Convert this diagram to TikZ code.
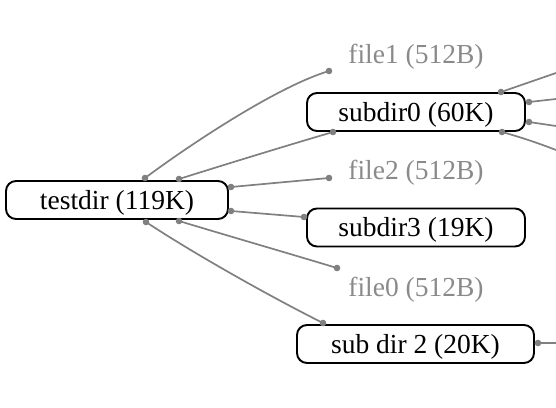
\documentclass[tikz,border=0pt]{standalone}
\usepackage{fontspec}
\setmainfont{Liberation Serif}
\definecolor{linkgray}{HTML}{808080}
\definecolor{textgray}{HTML}{8A8A8A}
\begin{document}
\begin{tikzpicture}[x=1pt,y=-1pt,
  dirbox/.style={draw=black, line width=1.9pt, rounded corners=10pt, minimum height=38pt, inner sep=0pt, text height=24pt, text depth=6pt, font=\fontsize{27.5}{33}\selectfont, text=black},
  filelabel/.style={text=textgray, font=\fontsize{27.5}{33}\selectfont, inner sep=0pt, anchor=base},
  link/.style={draw=linkgray, line width=1.7pt},
  dot/.style={fill=linkgray}]
\useasboundingbox (0,0) rectangle (556,407);
% boxes
\node[dirbox, minimum width=222pt] (td) at (117,200) {testdir (119K)};
\node[dirbox, minimum width=218pt] (s0) at (416,112) {subdir0 (60K)};
\node[dirbox, minimum width=218pt] (s3) at (416,227.5) {subdir3 (19K)};
\node[dirbox, minimum width=237pt] (s2) at (415.5,344) {sub dir 2 (20K)};
% file labels
\node[filelabel] (f1) at (416,63) {file1 (512B)};
\node[filelabel] (f2) at (416,179) {file2 (512B)};
\node[filelabel] (f0) at (416,296) {file0 (512B)};
% ports
\coordinate (td1) at (145,178);
\coordinate (td2) at (179,179);
\coordinate (td3) at (231,187);
\coordinate (td4) at (231,211);
\coordinate (td5) at (179,221);
\coordinate (td6) at (146,222);
\coordinate (f1p) at (329,71);
\coordinate (s0in) at (333,132);
\coordinate (f2p) at (329,178);
\coordinate (s3in) at (304,217);
\coordinate (f0p) at (337,268);
\coordinate (s2in) at (323,323);
\coordinate (s0a) at (501,92);
\coordinate (s0b) at (529,102);
\coordinate (s0c) at (529,122);
\coordinate (s0d) at (502,132);
\coordinate (e0a) at (556,73);
\coordinate (e0b) at (556,99);
\coordinate (e0c) at (556,126);
\coordinate (e0d) at (556,150);
\coordinate (s2a) at (538,343);
\coordinate (e2a) at (556,343);
% links
\draw[link] (td1) .. controls (195,141) and (279,86) .. (f1p);
\draw[link] (td2) .. controls (230,163) and (282,147) .. (s0in);
\draw[link] (td3) -- (f2p);
\draw[link] (td4) -- (s3in);
\draw[link] (td5) .. controls (232,237) and (284,252) .. (f0p);
\draw[link] (td6) .. controls (196,255) and (273,298) .. (s2in);
\draw[link] (s0a) -- (e0a);
\draw[link] (s0b) -- (e0b);
\draw[link] (s0c) -- (e0c);
\draw[link] (s0d) .. controls (520,137) and (538,143) .. (e0d);
\draw[link] (s2a) -- (e2a);
% dots
\foreach \p in {td1,td2,td3,td4,td5,td6,f1p,s0in,f2p,s3in,f0p,s2in,s0a,s0b,s0c,s0d,s2a}
  \fill[dot] (\p) circle (3.3pt);
\end{tikzpicture}
\end{document}
